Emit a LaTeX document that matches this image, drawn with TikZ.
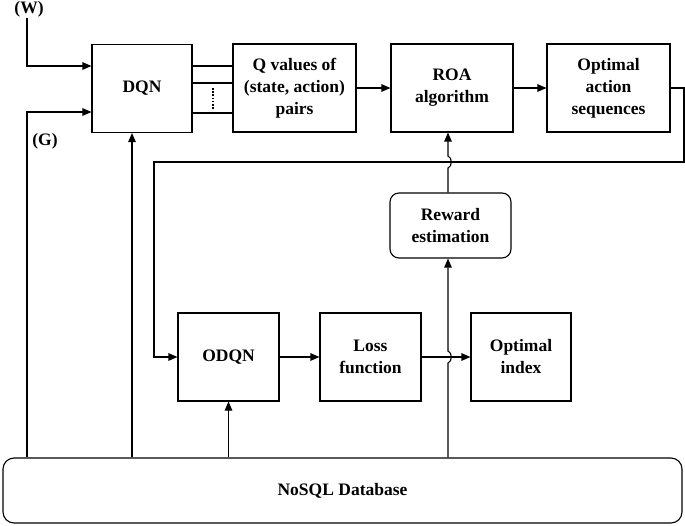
\documentclass[tikz,border=0pt]{standalone}
\usepackage{fontspec}
\setmainfont{Liberation Serif}
\usepackage{tikz}
\usetikzlibrary{arrows.meta,positioning,calc}

\begin{document}
\begin{tikzpicture}[
  x=1pt, y=-1pt,
  >={Triangle[length=9pt,width=7.5pt]},
  % Styles
  blk/.style={draw, line width=1.1pt, minimum width=100pt, minimum height=88pt,
              font=\fontsize{17.5}{22}\selectfont\bfseries, align=center, inner sep=2pt},
  rblk/.style={blk, rounded corners=9pt},
  lbl/.style={font=\fontsize{17.5}{22}\selectfont\bfseries, inner sep=1pt},
  flow/.style={->, line width=1.1pt},
  wire/.style={line width=1.1pt}
]
\useasboundingbox (0,0) rectangle (685,525);

% --- Top row ---
\node[blk] (dqn) at (142,88.5) {DQN};
\node[blk, minimum width=123pt] (qval) at (294.5,88) {Q values of\\(state, action)\\pairs};
\node[blk, minimum width=122pt] (roa) at (452,88) {ROA\\algorithm};
\node[blk, minimum width=123pt] (oas) at (608.5,88) {Optimal\\action\\sequences};

% --- Middle ---
\node[rblk, minimum width=121pt, minimum height=65pt] (reward) at (450.5,225.5) {Reward\\estimation};

% --- Bottom row ---
\node[blk, minimum width=101pt] (odqn) at (228.5,357) {ODQN};
\node[blk, minimum width=101pt] (loss) at (370.5,357) {Loss\\function};
\node[blk] (optidx) at (521,357) {Optimal\\index};

% --- Database ---
\node[rblk, minimum width=679pt, minimum height=65pt, rounded corners=11pt] (nosql) at (342.5,490.5) {NoSQL Database};

% Input labels
\node[lbl] (wlab) at (29,9) {(W)};
\node[lbl] (glab) at (45,141) {(G)};

% Helper coordinates
\coordinate (gx) at (27,0);
\coordinate (dx) at (132,0);
\coordinate (rx) at (448,0);
\coordinate (lx) at (154,0);
\coordinate (turn) at (684,162);

% --- Inputs to DQN ---
\draw[flow] (wlab.south -| gx) |- ($(dqn.west)+(0,-22.5)$);
\draw[flow] (nosql.north -| gx) |- ($(dqn.west)+(0,23.5)$);
\draw[flow] (nosql.north -| dx) -- (dqn.south -| dx);

% DQN outputs to Q values
\draw[wire] ($(dqn.east)+(0,-22.5)$) -- ($(qval.west)+(0,-22)$);
\draw[wire] ($(dqn.east)+(0,-5.5)$) -- ($(qval.west)+(0,-5)$);
\draw[wire] ($(dqn.east)+(0,24.5)$) -- ($(qval.west)+(0,25)$);
\draw[line width=2.2pt, dash pattern=on 1.6pt off 1.6pt] (213,88) -- (213,109);

% Top row flow
\draw[flow] (qval) -- (roa);
\draw[flow] (roa) -- (oas);

% Feedback loop to ODQN
\draw[flow] (oas.east) -| (turn) -| (lx |- odqn.west) -- (odqn.west);

% Bottom row flow
\draw[flow] (nosql.north -| odqn.south) -- (odqn.south);
\draw[flow] (odqn) -- (loss);
\draw[flow] (loss) -- (optidx);

% Database to reward (jumps over the loss line)
\draw[flow] (nosql.north -| rx) -- ($(rx |- loss)+(0,6)$)
  to[bend right=70] ($(rx |- loss)+(0,-6)$) -- (reward.south -| rx);

% Reward to ROA (jumps over the loop line)
\draw[flow] (reward.north -| rx) -- ($(rx |- turn)+(0,6)$)
  to[bend right=70] ($(rx |- turn)+(0,-6)$) -- (roa.south -| rx);

\end{tikzpicture}
\end{document}
